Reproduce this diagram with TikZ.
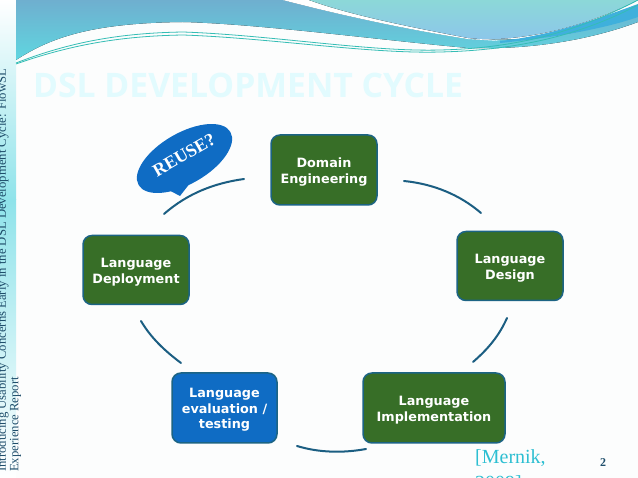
\documentclass[tikz,border=0pt]{standalone}
\usepackage{fontspec}
\setmainfont{Liberation Serif}
\newfontfamily\boxfont{DejaVu Sans}
\newfontfamily\titlefont{Open Sans}
\newfontfamily\serifb{Liberation Serif}
\usetikzlibrary{shapes.geometric}
\definecolor{boxgreen}{HTML}{376E27}
\definecolor{boxblue}{HTML}{0F6CC4}
\definecolor{edgeblue}{HTML}{1C6484}
\definecolor{arcblue}{HTML}{1B5E82}
\definecolor{titlepale}{HTML}{E2FBFE}
\definecolor{wavetop}{HTML}{6FAFCF}
\definecolor{wavelow}{HTML}{5FD6E0}
\definecolor{tealtop}{HTML}{8CD8D8}
\definecolor{teallow}{HTML}{8CC4EC}
\definecolor{waveline}{HTML}{35BDB5}
\definecolor{waveband}{HTML}{3FB0DC}
\definecolor{stripmid}{HTML}{8FE3EA}
\definecolor{sidetext}{HTML}{1F4E6B}
\definecolor{refcyan}{HTML}{2DBFD2}
\definecolor{pagebg}{HTML}{FCFDFD}
\tikzset{
  stagebox/.style={draw=edgeblue,line width=1.5pt,rounded corners=9pt,fill=boxgreen,text=white,
    font=\boxfont\bfseries\fontsize{12.8}{15.5}\selectfont,align=center,inner sep=0pt,anchor=center,
    text depth=0pt},
  arcline/.style={draw=arcblue,line width=2pt,line cap=round},
  waveedge/.style={draw=waveline,line width=0.8pt}
}
\begin{document}
\begin{tikzpicture}[x=1pt,y=-1pt]
\useasboundingbox (0,0) rectangle (638,478);
\clip (0,0) rectangle (638,478);
\fill[pagebg] (0,0) rectangle (638,478);
\fill[top color=white,bottom color=stripmid] (0,0) rectangle (16,200);
\fill[top color=stripmid,bottom color=white] (0,200) rectangle (16,478);
% waves
\fill[top color=wavetop,bottom color=wavelow]
  (16,0) -- (16,60) .. controls (50,38) and (90,23) .. (183,22)
  .. controls (260,24) and (380,40) .. (468,48)
  .. controls (530,50) and (590,40) .. (638,22) -- (638,12)
  .. controls (590,35) and (530,42) .. (468,39)
  .. controls (410,30) and (340,15) .. (283,0) -- cycle;
\fill[white] (283,0) .. controls (340,15) and (410,30) .. (468,39) -- (500,41)
  .. controls (440,32) and (360,15) .. (309,0) -- cycle;
\fill[top color=tealtop,bottom color=teallow]
  (309,0) .. controls (350,15) and (410,27) .. (468,38)
  .. controls (520,44) and (590,25) .. (638,0) -- cycle;
\fill[waveband] (500,41) .. controls (550,36) and (600,18) .. (638,4) -- (638,17)
  .. controls (600,30) and (550,38) .. (500,43) -- cycle;
\draw[waveedge] (16,63) .. controls (70,42) and (120,33) .. (183,32)
  .. controls (270,35) and (370,52) .. (440,50)
  .. controls (530,48) and (590,25) .. (638,0);
\draw[waveedge] (16,64) .. controls (70,45) and (120,36) .. (183,35)
  .. controls (270,38) and (370,54) .. (440,52)
  .. controls (530,50) and (590,30) .. (638,5);
% side text
\node[rotate=90,anchor=west,align=left,text=sidetext,inner sep=0pt,font=\serifb\fontsize{12.7}{13}\selectfont] (side) at (9,472)
  {Introducing Usability Concerns Early in the DSL Development Cycle: FlowSL\\[-0.5pt]Experience Report};
% title
\node[anchor=west,inner sep=0pt,text=titlepale,font=\titlefont\bfseries\fontsize{33.7}{33.7}\selectfont] (title) at (33,85) {DSL DEVELOPMENT CYCLE};
% boxes
\node[stagebox,minimum width=106pt,minimum height=70pt] (domain) at (324,170) {\strut Domain\\Engineering};
\node[stagebox,minimum width=106pt,minimum height=69pt] (design) at (510,266) {\strut Language\\Design};
\node[stagebox,minimum width=142pt,minimum height=70pt] (impl) at (434,408) {\strut Language\\Implementation};
\node[stagebox,fill=boxblue,minimum width=105pt,minimum height=70pt] (eval) at (224.5,408) {\strut Language\\evaluation /\\testing};
\node[stagebox,minimum width=106pt,minimum height=69pt] (deploy) at (136,270) {\strut Language\\Deployment};
% arcs
\coordinate (a1s) at (404,181); \coordinate (a1e) at (481,213);
\coordinate (a2s) at (507,318); \coordinate (a2e) at (473,362);
\coordinate (a3s) at (366,449); \coordinate (a3e) at (297,446);
\coordinate (a4s) at (181,363); \coordinate (a4e) at (141,321);
\coordinate (a5s) at (164,214); \coordinate (a5e) at (244,179);
\draw[arcline] (a1s) .. controls (434,184) and (460,195) .. (a1e);
\draw[arcline] (a2s) .. controls (499,336) and (488,349) .. (a2e);
\draw[arcline] (a3s) .. controls (344,453) and (320,453) .. (a3e);
\draw[arcline] (a4s) .. controls (165,351) and (151,338) .. (a4e);
\draw[arcline] (a5s) .. controls (188,193) and (215,183) .. (a5e);
% bubble
\fill[boxblue] (161,186) -- (180,196) -- (194,178) -- cycle;
\node[ellipse,rotate=30,fill=boxblue,minimum width=106pt,minimum height=51pt,inner sep=0pt] (bubble) at (184.5,158.5) {};
\node[rotate=30,text=white,inner sep=0pt,font=\serifb\bfseries\fontsize{18}{18}\selectfont] (reuse) at (184,155) {REUSE?};
% reference and page number
\node[anchor=north west,inner sep=0pt,align=left,text=refcyan,font=\serifb\fontsize{20}{26}\selectfont] (ref) at (475,449) {[Mernik,\\2009]};
\node[text=sidetext,inner sep=0pt,font=\serifb\bfseries\fontsize{12}{12}\selectfont] (page) at (603,463) {2};
\end{tikzpicture}
\end{document}
